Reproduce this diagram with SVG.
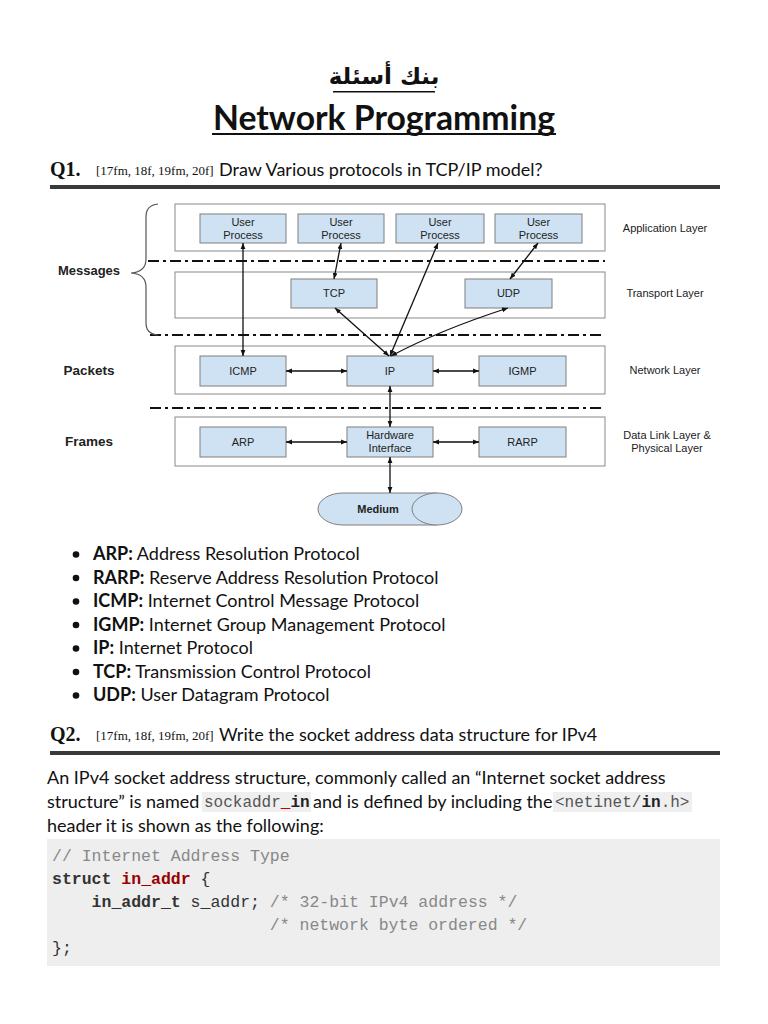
<svg xmlns="http://www.w3.org/2000/svg" width="768" height="1024" viewBox="0 0 768 1024">
<style>
.lato{font-family:Lato,"Liberation Sans",sans-serif;fill:#111}
.serif{font-family:"Liberation Serif",serif;fill:#111}
.dg{font-family:"Liberation Sans",Arial,sans-serif;fill:#222}
.layer{fill:#fff;stroke:#8a8a8a;stroke-width:1}
.proto{fill:#cfe2f3;stroke:#7f7f7f;stroke-width:1}
.ddl{stroke:#111;stroke-width:2;stroke-dasharray:11 4 3 4;fill:none}
.conn{stroke:#111;stroke-width:1.3;fill:none;marker-start:url(#ah);marker-end:url(#ah)}
.mono{font-family:"Liberation Mono","DejaVu Sans Mono",monospace}
</style>
<defs>
<marker id="ah" viewBox="0 0 10 10" refX="10" refY="5" markerWidth="6" markerHeight="6" orient="auto-start-reverse" markerUnits="userSpaceOnUse">
<path d="M0,1 L10,5 L0,9 Z" fill="#111"/>
</marker>
</defs>
<rect width="768" height="1024" fill="#fff"/>

<!-- Title -->
<g id="title">
<text x="384" y="84" text-anchor="middle" font-family="'DejaVu Sans',sans-serif" font-weight="bold" font-size="23" fill="#111" direction="rtl">بنك أسئلة</text>
<rect x="333" y="91" width="102" height="1.5" fill="#111"/>
<text x="384" y="130" text-anchor="middle" class="lato" font-weight="bold" font-size="33.5" textLength="342" lengthAdjust="spacingAndGlyphs">Network Programming</text>
<rect x="212" y="133" width="344" height="2" fill="#111"/>
</g>

<!-- Q1 -->
<g id="q1">
<text x="50" y="176" class="serif" font-weight="bold" font-size="20">Q1.</text>
<text x="96" y="175" class="serif" font-size="13">[17fm, 18f, 19fm, 20f]</text>
<text x="219" y="176" class="lato" font-size="18">Draw Various protocols in TCP/IP model?</text>
<rect x="50" y="185" width="670" height="4" fill="#3a3a3a"/>
</g>

<!-- Diagram -->
<g id="layers">
<rect id="app-layer" class="layer" x="175" y="204" width="430" height="47"/>
<rect id="transport-layer" class="layer" x="175" y="272" width="430" height="46"/>
<rect id="network-layer" class="layer" x="175" y="346" width="430" height="48"/>
<rect id="datalink-layer" class="layer" x="175" y="417" width="430" height="49"/>
</g>
<g id="dividers">
<line class="ddl" x1="148" y1="261" x2="605" y2="261"/>
<line class="ddl" x1="150" y1="335" x2="605" y2="335"/>
<line class="ddl" x1="150" y1="408" x2="605" y2="408"/>
<path d="M158,204 Q146,205 146,217 L146,259 Q146,272 131,273 Q146,274 146,287 L146,323 Q146,334 158,335" fill="none" stroke="#555" stroke-width="1.2"/>
</g>

<g id="labels" class="dg">
<text x="89" y="275" text-anchor="middle" font-weight="bold" font-size="13">Messages</text>
<text x="89" y="375" text-anchor="middle" font-weight="bold" font-size="13.5">Packets</text>
<text x="89" y="446" text-anchor="middle" font-weight="bold" font-size="13.5">Frames</text>
<text x="665" y="232" text-anchor="middle" font-size="11">Application Layer</text>
<text x="665" y="297" text-anchor="middle" font-size="11">Transport Layer</text>
<text x="665" y="374" text-anchor="middle" font-size="11">Network Layer</text>
<text x="667" y="439" text-anchor="middle" font-size="11">Data Link Layer &amp;</text>
<text x="667" y="452" text-anchor="middle" font-size="11">Physical Layer</text>
</g>

<g id="up1"><rect class="proto" x="200" y="214" width="86" height="29"/><text class="dg" x="243" y="226" text-anchor="middle" font-size="11">User</text><text class="dg" x="243" y="239" text-anchor="middle" font-size="11">Process</text></g>
<g id="up2"><rect class="proto" x="298" y="214" width="86" height="29"/><text class="dg" x="341" y="226" text-anchor="middle" font-size="11">User</text><text class="dg" x="341" y="239" text-anchor="middle" font-size="11">Process</text></g>
<g id="up3"><rect class="proto" x="396" y="214" width="88" height="29"/><text class="dg" x="440" y="226" text-anchor="middle" font-size="11">User</text><text class="dg" x="440" y="239" text-anchor="middle" font-size="11">Process</text></g>
<g id="up4"><rect class="proto" x="495" y="214" width="87" height="29"/><text class="dg" x="538.5" y="226" text-anchor="middle" font-size="11">User</text><text class="dg" x="538.5" y="239" text-anchor="middle" font-size="11">Process</text></g>
<g id="tcp"><rect class="proto" x="291" y="279" width="86" height="29"/><text class="dg" x="334" y="297" text-anchor="middle" font-size="11">TCP</text></g>
<g id="udp"><rect class="proto" x="465" y="279" width="87" height="29"/><text class="dg" x="508.5" y="297" text-anchor="middle" font-size="11">UDP</text></g>
<g id="icmp"><rect class="proto" x="200" y="356" width="86" height="30"/><text class="dg" x="243" y="375" text-anchor="middle" font-size="11">ICMP</text></g>
<g id="ip"><rect class="proto" x="347" y="356" width="86" height="30"/><text class="dg" x="390" y="375" text-anchor="middle" font-size="11">IP</text></g>
<g id="igmp"><rect class="proto" x="479" y="356" width="87" height="30"/><text class="dg" x="522.5" y="375" text-anchor="middle" font-size="11">IGMP</text></g>
<g id="arp"><rect class="proto" x="200" y="427" width="86" height="30"/><text class="dg" x="243" y="446" text-anchor="middle" font-size="11">ARP</text></g>
<g id="hwif"><rect class="proto" x="347" y="427" width="86" height="30"/><text class="dg" x="390" y="439" text-anchor="middle" font-size="11">Hardware</text><text class="dg" x="390" y="452" text-anchor="middle" font-size="11">Interface</text></g>
<g id="rarp"><rect class="proto" x="479" y="427" width="87" height="30"/><text class="dg" x="522.5" y="446" text-anchor="middle" font-size="11">RARP</text></g>
<g id="medium">
<path d="M437,493 H343 A25,16 0 0 0 343,525 H437 Z" fill="#cfe2f3" stroke="#7f7f7f" stroke-width="1"/>
<ellipse cx="437" cy="509" rx="25" ry="16" fill="#cfe2f3" stroke="#7f7f7f" stroke-width="1"/>
<text class="dg" x="378" y="513" text-anchor="middle" font-weight="bold" font-size="11">Medium</text>
</g>

<g id="connectors">
<line class="conn" x1="243" y1="243" x2="243" y2="356"/>
<line class="conn" x1="341" y1="243" x2="334" y2="279"/>
<line class="conn" x1="335" y1="308" x2="389" y2="356"/>
<line class="conn" x1="438" y1="243" x2="390" y2="356"/>
<line class="conn" x1="538" y1="243" x2="510" y2="279"/>
<path class="conn" d="M508,308 Q440,330 391,356"/>
<line class="conn" x1="286" y1="371" x2="347" y2="371"/>
<line class="conn" x1="433" y1="371" x2="479" y2="371"/>
<line class="conn" x1="390" y1="386" x2="390" y2="427"/>
<line class="conn" x1="286" y1="442" x2="347" y2="442"/>
<line class="conn" x1="433" y1="442" x2="479" y2="442"/>
<line class="conn" x1="390" y1="457" x2="390" y2="493"/>
</g>

<!-- Bullets -->
<g id="bullets" class="lato" font-size="18">
<circle cx="76" cy="554.5" r="3.3" fill="#111"/><text x="93" y="560"><tspan font-weight="bold">ARP:</tspan> Address Resolution Protocol</text>
<circle cx="76" cy="578" r="3.3" fill="#111"/><text x="93" y="583.5"><tspan font-weight="bold">RARP:</tspan> Reserve Address Resolution Protocol</text>
<circle cx="76" cy="601.5" r="3.3" fill="#111"/><text x="93" y="607"><tspan font-weight="bold">ICMP:</tspan> Internet Control Message Protocol</text>
<circle cx="76" cy="625" r="3.3" fill="#111"/><text x="93" y="630.5"><tspan font-weight="bold">IGMP:</tspan> Internet Group Management Protocol</text>
<circle cx="76" cy="648.5" r="3.3" fill="#111"/><text x="93" y="654"><tspan font-weight="bold">IP:</tspan> Internet Protocol</text>
<circle cx="76" cy="672" r="3.3" fill="#111"/><text x="93" y="677.5"><tspan font-weight="bold">TCP:</tspan> Transmission Control Protocol</text>
<circle cx="76" cy="695.5" r="3.3" fill="#111"/><text x="93" y="701"><tspan font-weight="bold">UDP:</tspan> User Datagram Protocol</text>
</g>

<!-- Q2 -->
<g id="q2">
<text x="50" y="741" class="serif" font-weight="bold" font-size="20">Q2.</text>
<text x="96" y="740" class="serif" font-size="13">[17fm, 18f, 19fm, 20f]</text>
<text x="219" y="741" class="lato" font-size="18">Write the socket address data structure for IPv4</text>
<rect x="50" y="751" width="670" height="4" fill="#3a3a3a"/>
</g>

<g id="paragraph" class="lato" font-size="18">
<text x="47" y="784">An IPv4 socket address structure, commonly called an “Internet socket address</text>
<text x="47" y="808">structure” is named</text>
<rect x="202" y="792" width="109" height="20" fill="#efefef"/>
<text x="204" y="807" class="mono" font-size="16" fill="#555">sockaddr<tspan fill="#c00">_</tspan><tspan font-weight="bold" fill="#222">in</tspan></text>
<text x="313" y="808">and is defined by including the</text>
<rect x="553" y="792" width="139" height="20" fill="#efefef"/>
<text x="555" y="807" class="mono" font-size="16" fill="#555">&lt;netinet/<tspan font-weight="bold" fill="#222">in</tspan>.h&gt;</text>
<text x="47" y="832">header it is shown as the following:</text>
</g>

<g id="code" class="mono" font-size="16.5">
<rect x="47" y="839" width="673" height="127" fill="#eeeeee"/>
<text x="52" y="861" fill="#888">// Internet Address Type</text>
<text x="52" y="884" fill="#333" xml:space="preserve"><tspan font-weight="bold">struct</tspan> <tspan font-weight="bold" fill="#990000">in_addr</tspan> {</text>
<text x="91.6" y="907" fill="#333" xml:space="preserve"><tspan font-weight="bold">in_addr_t</tspan> s_addr; <tspan fill="#888">/* 32-bit IPv4 address */</tspan></text>
<text x="269.8" y="930" fill="#888">/* network byte ordered */</text>
<text x="52" y="953" fill="#333">};</text>
</g>
</svg>
